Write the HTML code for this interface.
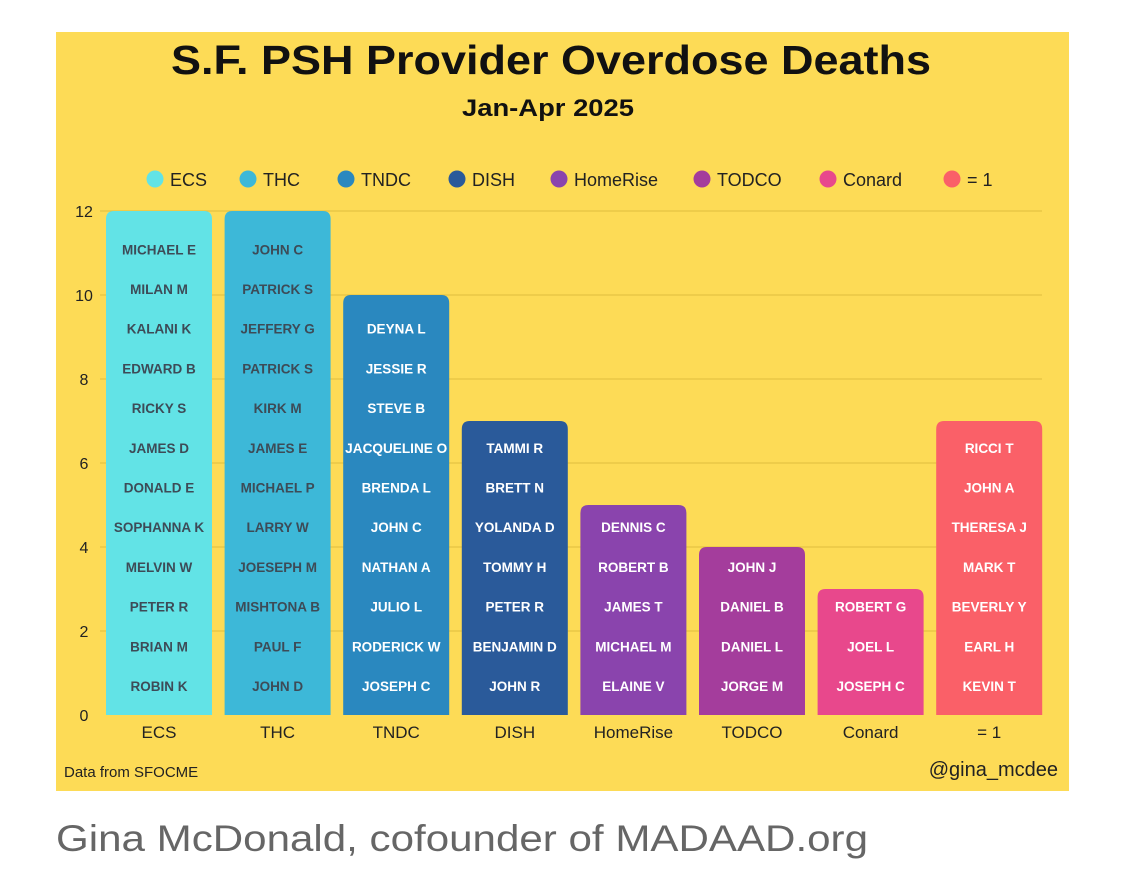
<!DOCTYPE html>
<html><head><meta charset="utf-8"><style>
body{margin:0;background:#fff;width:1125px;height:886px;overflow:hidden;font-family:"Liberation Sans",sans-serif}
</style></head><body>
<svg width="1125" height="886" id="svg">
<rect x="56" y="32" width="1013" height="759" fill="#fddb56"/>
<text x="551" y="74" text-anchor="middle" font-size="41" font-weight="bold" fill="#111" textLength="760" lengthAdjust="spacingAndGlyphs">S.F. PSH Provider Overdose Deaths</text>
<text x="548" y="116" text-anchor="middle" font-size="24" font-weight="bold" fill="#111" textLength="172" lengthAdjust="spacingAndGlyphs">Jan-Apr 2025</text>
<text x="64" y="777" font-size="15" fill="#222">Data from SFOCME</text>
<text x="1058" y="776" text-anchor="end" font-size="20" fill="#222">@gina_mcdee</text>
<text x="56" y="851" font-size="37" fill="#666" textLength="812" lengthAdjust="spacingAndGlyphs">Gina McDonald, cofounder of MADAAD.org</text>
<g id="g"></g>
</svg>
<script>
const categories=["ECS","THC","TNDC","DISH","HomeRise","TODCO","Conard","= 1"];
const values=[12,12,10,7,5,4,3,7];
const colors=["#62e3e6","#3db8d8","#2a88bf","#2a5a9a","#8a44ad","#a43d9c","#e8488c","#fa6068"];
const names=[
["MICHAEL E","MILAN M","KALANI K","EDWARD B","RICKY S","JAMES D","DONALD E","SOPHANNA K","MELVIN W","PETER R","BRIAN M","ROBIN K"],
["JOHN C","PATRICK S","JEFFERY G","PATRICK S","KIRK M","JAMES E","MICHAEL P","LARRY W","JOESEPH M","MISHTONA B","PAUL F","JOHN D"],
["DEYNA L","JESSIE R","STEVE B","JACQUELINE O","BRENDA L","JOHN C","NATHAN A","JULIO L","RODERICK W","JOSEPH C"],
["TAMMI R","BRETT N","YOLANDA D","TOMMY H","PETER R","BENJAMIN D","JOHN R"],
["DENNIS C","ROBERT B","JAMES T","MICHAEL M","ELAINE V"],
["JOHN J","DANIEL B","DANIEL L","JORGE M"],
["ROBERT G","JOEL L","JOSEPH C"],
["RICCI T","JOHN A","THERESA J","MARK T","BEVERLY Y","EARL H","KEVIN T"]];
const yTicks=[0,2,4,6,8,10,12];
const NS="http://www.w3.org/2000/svg",g=document.getElementById('g');
const y=v=>715-v*42, x=i=>106+i*118.6;
function mk(t,a,txt){const e=document.createElementNS(NS,t);for(const k in a)if(a[k]!=null)e.setAttribute(k,a[k]);if(txt!=null)e.textContent=txt;g.appendChild(e);return e;}
yTicks.forEach(t=>{
 if(t>0){const l=mk('line',{x1:100,x2:1042,y1:y(t),y2:y(t),stroke:'#e0be3e','stroke-width':1});
 
 }
 const tx=mk('text',{x:84,y:y(t)+6,'text-anchor':'middle','font-size':16,fill:'#222'},t);
 
 
});
categories.forEach((c,i)=>{
 const bx=x(i),w=106,top=y(values[i]),bot=715,r=8;
 const p=mk('path',{d:`M${bx},${bot}V${top+r}Q${bx},${top} ${bx+r},${top}H${bx+w-r}Q${bx+w},${top} ${bx+w},${top+r}V${bot}Z`,fill:colors[i]});
 
 
 const tc=i<2?'#3d4b57':'#ffffff';
 const n=names[i];
 n.forEach((nm,j)=>{
  const cy=686-(n.length-1-j)*39.7;
  const t=mk('text',{x:bx+w/2,y:cy+5,'text-anchor':'middle','font-size':13.5,'font-weight':'bold',fill:tc,textLength:nm.length>10?102:null,lengthAdjust:nm.length>10?'spacingAndGlyphs':null},nm);
  
  
 });
 const xl=mk('text',{x:bx+w/2,y:738,'text-anchor':'middle','font-size':17,fill:'#222'},c);
 
 
});
categories.forEach((c,i)=>{
 const cx=[155,248,346,457,559,702,828,952][i];
 const d=mk('circle',{cx:cx,cy:179,r:8.5,fill:colors[i]});
 
 
 const t=mk('text',{x:cx+15,y:186,'font-size':18,fill:'#222'},c);
 
 
});
</script>
</body></html>
